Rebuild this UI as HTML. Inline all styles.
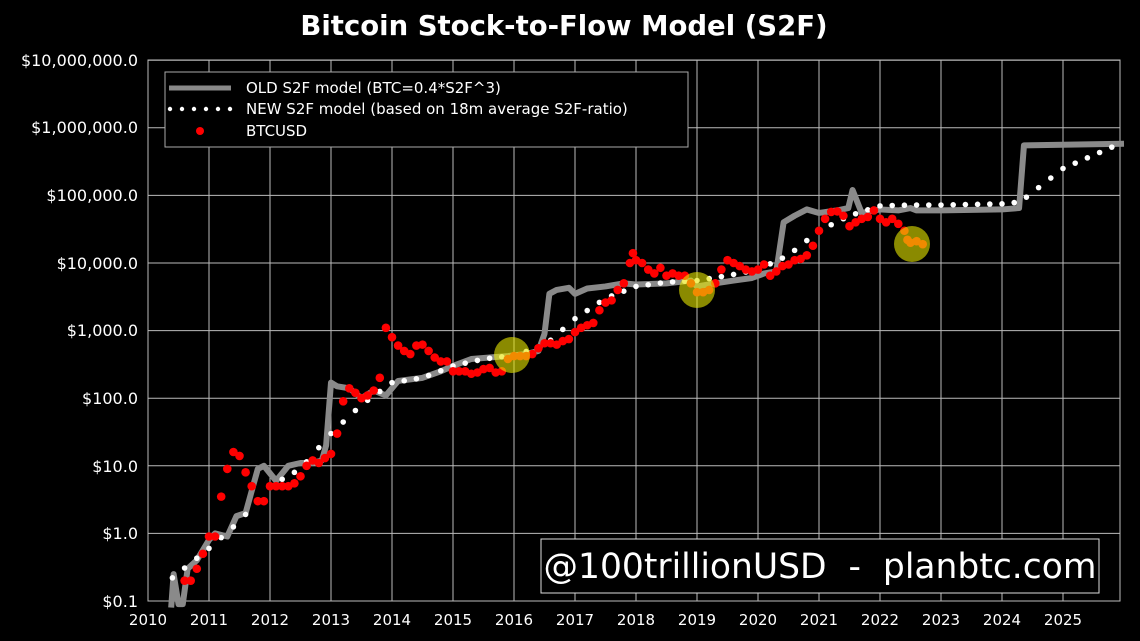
<!DOCTYPE html>
<html><head><meta charset="utf-8"><style>
html,body{margin:0;padding:0;background:#000;}
svg{display:block;font-family:"DejaVu Sans","Liberation Sans",sans-serif;}
</style></head><body>
<svg id="s" width="1140" height="641" viewBox="0 0 1140 641" xmlns="http://www.w3.org/2000/svg">
<rect width="1140" height="641" fill="#000"/>
<text x="564" y="35" fill="#fff" font-size="27.5" font-weight="bold" text-anchor="middle">Bitcoin Stock-to-Flow Model (S2F)</text>
<g id="grid" stroke="#bbb" stroke-width="1"></g>
<g fill="#fff" font-size="16" text-anchor="end">
<text x="138" y="66">$10,000,000.0</text>
<text x="138" y="133">$1,000,000.0</text>
<text x="138" y="201">$100,000.0</text>
<text x="138" y="269">$10,000.0</text>
<text x="138" y="336">$1,000.0</text>
<text x="138" y="404">$100.0</text>
<text x="138" y="472">$10.0</text>
<text x="138" y="539">$1.0</text>
<text x="138" y="607">$0.1</text>
</g>
<g id="xl" fill="#fff" font-size="15" text-anchor="middle"></g>
<g id="series"></g>
<rect x="165" y="72" width="523" height="75" fill="#000" stroke="#aaa" stroke-width="1"/>
<line x1="169" y1="88" x2="231" y2="88" stroke="#888" stroke-width="5"/>
<g fill="#fff"><circle cx="170" cy="109" r="2.2"/><circle cx="182" cy="109" r="2.2"/><circle cx="194" cy="109" r="2.2"/><circle cx="206" cy="109" r="2.2"/><circle cx="218" cy="109" r="2.2"/><circle cx="230" cy="109" r="2.2"/></g>
<circle cx="200" cy="131" r="4" fill="#f00"/>
<g fill="#fff" font-size="15">
<text x="246" y="93">OLD S2F model (BTC=0.4*S2F^3)</text>
<text x="246" y="114">NEW S2F model (based on 18m average S2F-ratio)</text>
<text x="246" y="136">BTCUSD</text>
</g>
<rect x="541" y="539" width="558" height="54" fill="#000" stroke="#ddd" stroke-width="1"/>
<text x="820" y="578" fill="#fff" font-size="34.5" text-anchor="middle" xml:space="preserve">@100trillionUSD  -  planbtc.com</text>
</svg>
<script>
var NS="http://www.w3.org/2000/svg";
function X(y){return 148+61*(y-2010);}
function Y(p){return 601-67.6*(Math.log10(p)+1);}
function el(t,a,p){var e=document.createElementNS(NS,t);for(var k in a)e.setAttribute(k,a[k]);p.appendChild(e);return e;}
var g=document.getElementById('grid');
for(var yr=2010;yr<=2025;yr++){el('line',{x1:X(yr),x2:X(yr),y1:60,y2:601},g);}
for(var d=0;d<=8;d++){var yy=601-67.6*d;el('line',{x1:148,x2:1120,y1:yy,y2:yy},g);}
el('rect',{x:148,y:60,width:972,height:541,fill:'none'},g);
var xl=document.getElementById('xl');
for(var yr=2010;yr<=2025;yr++){var t=el('text',{x:X(yr),y:625},xl);t.textContent=yr;}
var S=document.getElementById('series');
var old=[[2010.38,0.08],[2010.42,0.25],[2010.5,0.09],[2010.57,0.09],[2010.65,0.3],[2010.8,0.4],[2011.0,0.8],[2011.1,1.0],[2011.3,0.9],[2011.45,1.8],[2011.6,2],[2011.8,9],[2011.9,10],[2012.1,6],[2012.3,10],[2012.5,11],[2012.7,11],[2012.85,12],[2012.92,20],[2013.0,170],[2013.1,150],[2013.3,140],[2013.5,100],[2013.7,130],[2013.9,110],[2014.1,180],[2014.5,200],[2014.8,250],[2015.0,300],[2015.3,380],[2015.6,400],[2015.9,420],[2016.2,450],[2016.4,500],[2016.5,900],[2016.58,3500],[2016.7,4000],[2016.9,4300],[2017.0,3500],[2017.2,4200],[2017.5,4500],[2017.8,5000],[2018.0,4800],[2018.5,5000],[2018.9,5500],[2019.0,4500],[2019.3,5000],[2019.6,5500],[2019.9,6000],[2020.1,7000],[2020.3,7500],[2020.42,40000],[2020.6,50000],[2020.8,62000],[2021.0,55000],[2021.3,60000],[2021.48,65000],[2021.55,120000],[2021.7,55000],[2022.0,62000],[2022.3,60000],[2022.5,65000],[2022.6,60000],[2023,60000],[2024.0,62000],[2024.28,65000],[2024.36,550000],[2026,580000]];
el('polyline',{points:old.map(function(p){return X(p[0])+','+Y(p[1]);}).join(' '),fill:'none',stroke:'#8a8a8a','stroke-width':6,'stroke-linejoin':'round'},S);
var nw=[[2010.4,0.22],[2011,0.6],[2011.5,1.5],[2012,5],[2012.5,9],[2013,30],[2013.5,80],[2014,170],[2014.5,200],[2015,300],[2015.5,380],[2016,430],[2016.5,600],[2017,1500],[2017.5,3000],[2018,4500],[2018.5,5200],[2019,5500],[2019.5,6500],[2020,8000],[2020.5,13000],[2021,30000],[2021.5,50000],[2022,70000],[2022.5,72000],[2023,72000],[2024,75000],[2024.3,80000],[2025,250000],[2026,620000]];
function interp(t){for(var i=0;i<nw.length-1;i++){if(t>=nw[i][0]&&t<=nw[i+1][0]){var f=(t-nw[i][0])/(nw[i+1][0]-nw[i][0]);return Math.pow(10,Math.log10(nw[i][1])+f*(Math.log10(nw[i+1][1])-Math.log10(nw[i][1])));}}return nw[nw.length-1][1];}
for(var t=2010.4;t<=2025.95;t+=0.2){el('circle',{cx:X(t),cy:Y(interp(t)),r:2.8,fill:'#fff'},S);}
var btc=[[2010.6,0.2],[2010.7,0.2],[2010.8,0.3],[2010.9,0.5],[2011.0,0.9],[2011.1,0.9],[2011.2,3.5],[2011.3,9],[2011.4,16],[2011.5,14],[2011.6,8],[2011.7,5],[2011.8,3],[2011.9,3],[2012.0,5],[2012.1,5],[2012.2,5],[2012.3,5],[2012.4,5.5],[2012.5,7],[2012.6,10],[2012.7,12],[2012.8,11],[2012.9,13],[2013.0,15],[2013.1,30],[2013.2,90],[2013.3,140],[2013.4,120],[2013.5,100],[2013.6,110],[2013.7,130],[2013.8,200],[2013.9,1100],[2014.0,800],[2014.1,600],[2014.2,500],[2014.3,450],[2014.4,600],[2014.5,620],[2014.6,500],[2014.7,400],[2014.8,350],[2014.9,350],[2015.0,250],[2015.1,250],[2015.2,250],[2015.3,230],[2015.4,240],[2015.5,270],[2015.6,280],[2015.7,240],[2015.8,250],[2015.9,380],[2016.0,420],[2016.1,420],[2016.2,420],[2016.3,450],[2016.4,550],[2016.5,650],[2016.6,650],[2016.7,620],[2016.8,700],[2016.9,750],[2017.0,950],[2017.1,1100],[2017.2,1200],[2017.3,1300],[2017.4,2000],[2017.5,2600],[2017.6,2800],[2017.7,4000],[2017.8,5000],[2017.9,10000],[2017.95,14000],[2018.0,11000],[2018.1,10000],[2018.2,8000],[2018.3,7000],[2018.4,8500],[2018.5,6500],[2018.6,7000],[2018.7,6500],[2018.8,6500],[2018.9,5000],[2019.0,3700],[2019.1,3700],[2019.2,4000],[2019.3,5000],[2019.4,8000],[2019.5,11000],[2019.6,10000],[2019.7,9000],[2019.8,8000],[2019.9,7500],[2020.0,8000],[2020.1,9500],[2020.2,6500],[2020.3,7500],[2020.4,9000],[2020.5,9500],[2020.6,11000],[2020.7,11500],[2020.8,13000],[2020.9,18000],[2021.0,30000],[2021.1,45000],[2021.2,57000],[2021.3,58000],[2021.4,50000],[2021.5,35000],[2021.6,40000],[2021.7,45000],[2021.8,48000],[2021.9,60000],[2022.0,45000],[2022.1,40000],[2022.2,45000],[2022.3,38000],[2022.4,30000],[2022.45,22000],[2022.5,20000],[2022.6,21000],[2022.7,19000]];
btc.forEach(function(p){el('circle',{cx:X(p[0]),cy:Y(p[1]),r:4.3,fill:'#f00'},S);});
[[512,355],[697,290],[912,244]].forEach(function(c){el('circle',{cx:c[0],cy:c[1],r:18,fill:'#e6e600','fill-opacity':0.6},S);});
</script>
</body></html>
